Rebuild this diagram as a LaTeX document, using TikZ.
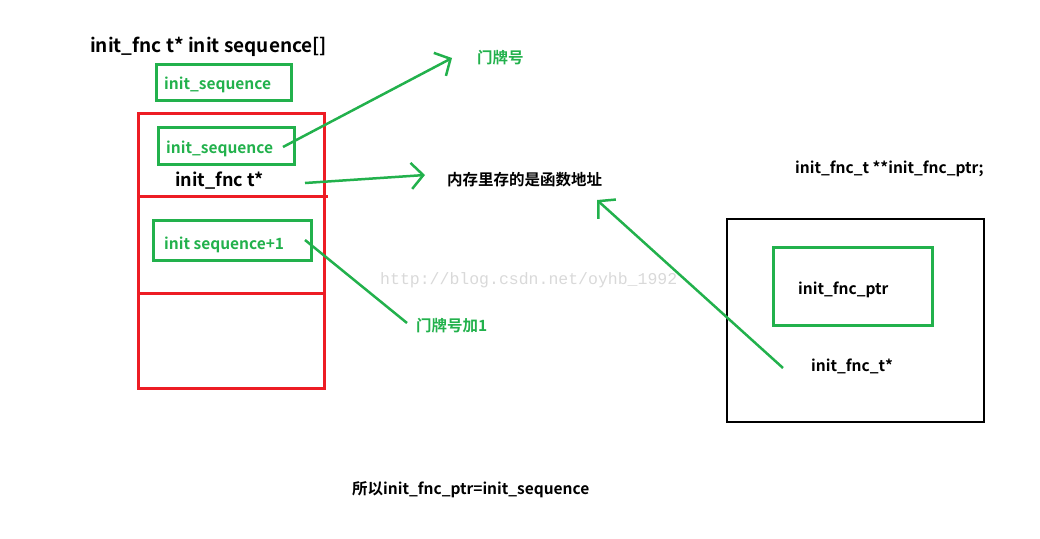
\documentclass[tikz,border=0pt]{standalone}
\usepackage{fontspec}
\setmainfont{Noto Sans CJK SC Bold}
\setmonofont{Liberation Mono}
\usetikzlibrary{arrows.meta}
\definecolor{gr}{HTML}{22B14C}
\definecolor{rd}{HTML}{ED1C24}
\begin{document}
\begin{tikzpicture}[x=1pt,y=-1pt,
  every node/.style={font=\fontsize{15.5}{18}\selectfont,inner sep=0pt},
  gbox/.style={draw=gr,line width=3pt},
  gtxt/.style={text=gr,anchor=west},
  btxt/.style={anchor=west},
  garr/.style={draw=gr,line width=2.5pt,-{Straight Barb[length=12pt,width=26pt,line width=2.5pt]}},
  gline/.style={draw=gr,line width=2.5pt}]
\useasboundingbox (0,0) rectangle (1040,538);
\node[btxt,font=\fontsize{19}{22}\selectfont] (title) at (90,47) {init\_fnc t* init sequence[]};
\draw[gbox] (156,64) rectangle (291,100);
\node[gtxt] (s0) at (164,85) {init\_sequence};
\draw[rd,line width=3pt] (138,113) rectangle (324,388);
\draw[rd,line width=3pt] (138,196) -- (328,196);
\draw[rd,line width=3pt] (138,293) -- (324,293);
\draw[gbox] (158,127) rectangle (294,164);
\node[gtxt] (s1) at (166,149) {init\_sequence};
\node[btxt,font=\fontsize{18}{20}\selectfont] (ft) at (175,181) {init\_fnc t*};
\draw[gbox] (153,220) rectangle (311,260);
\node[gtxt] (s2) at (164,245) {init sequence+1};
\node[gtxt] (mp) at (477,58) {门牌号};
\node[btxt] (nc) at (447,180) {内存里存的是函数地址};
\node[gtxt] (mp1) at (416,326) {门牌号加1};
\coordinate (a1) at (283,147); \coordinate (a1e) at (452,58);
\coordinate (a2) at (305,183); \coordinate (a2e) at (425,175);
\coordinate (a3) at (305,240); \coordinate (a3e) at (407,323);
\draw[garr] (a1) -- (a1e);
\draw[garr] (a2) -- (a2e);
\draw[gline] (a3) -- (a3e);
\node[anchor=west,text=black!15,font=\ttfamily\fontsize{16.5}{18}\selectfont] (wm) at (380,280) {http://blog.csdn.net/oyhb\_1992};
\node[btxt] (decl) at (795,169) {init\_fnc\_t **init\_fnc\_ptr;};
\draw[line width=2.5pt] (727,219) rectangle (984,422);
\draw[gbox] (773,247) rectangle (932,325);
\node[btxt] (ptr) at (798,290) {init\_fnc\_ptr};
\node[btxt] (ft2) at (811,366) {init\_fnc\_t*};
\coordinate (a4) at (783,368); \coordinate (a4e) at (597,200);
\draw[garr] (a4) -- (a4e);
\node[btxt] (so) at (352,490) {所以init\_fnc\_ptr=init\_sequence};
\end{tikzpicture}
\end{document}
